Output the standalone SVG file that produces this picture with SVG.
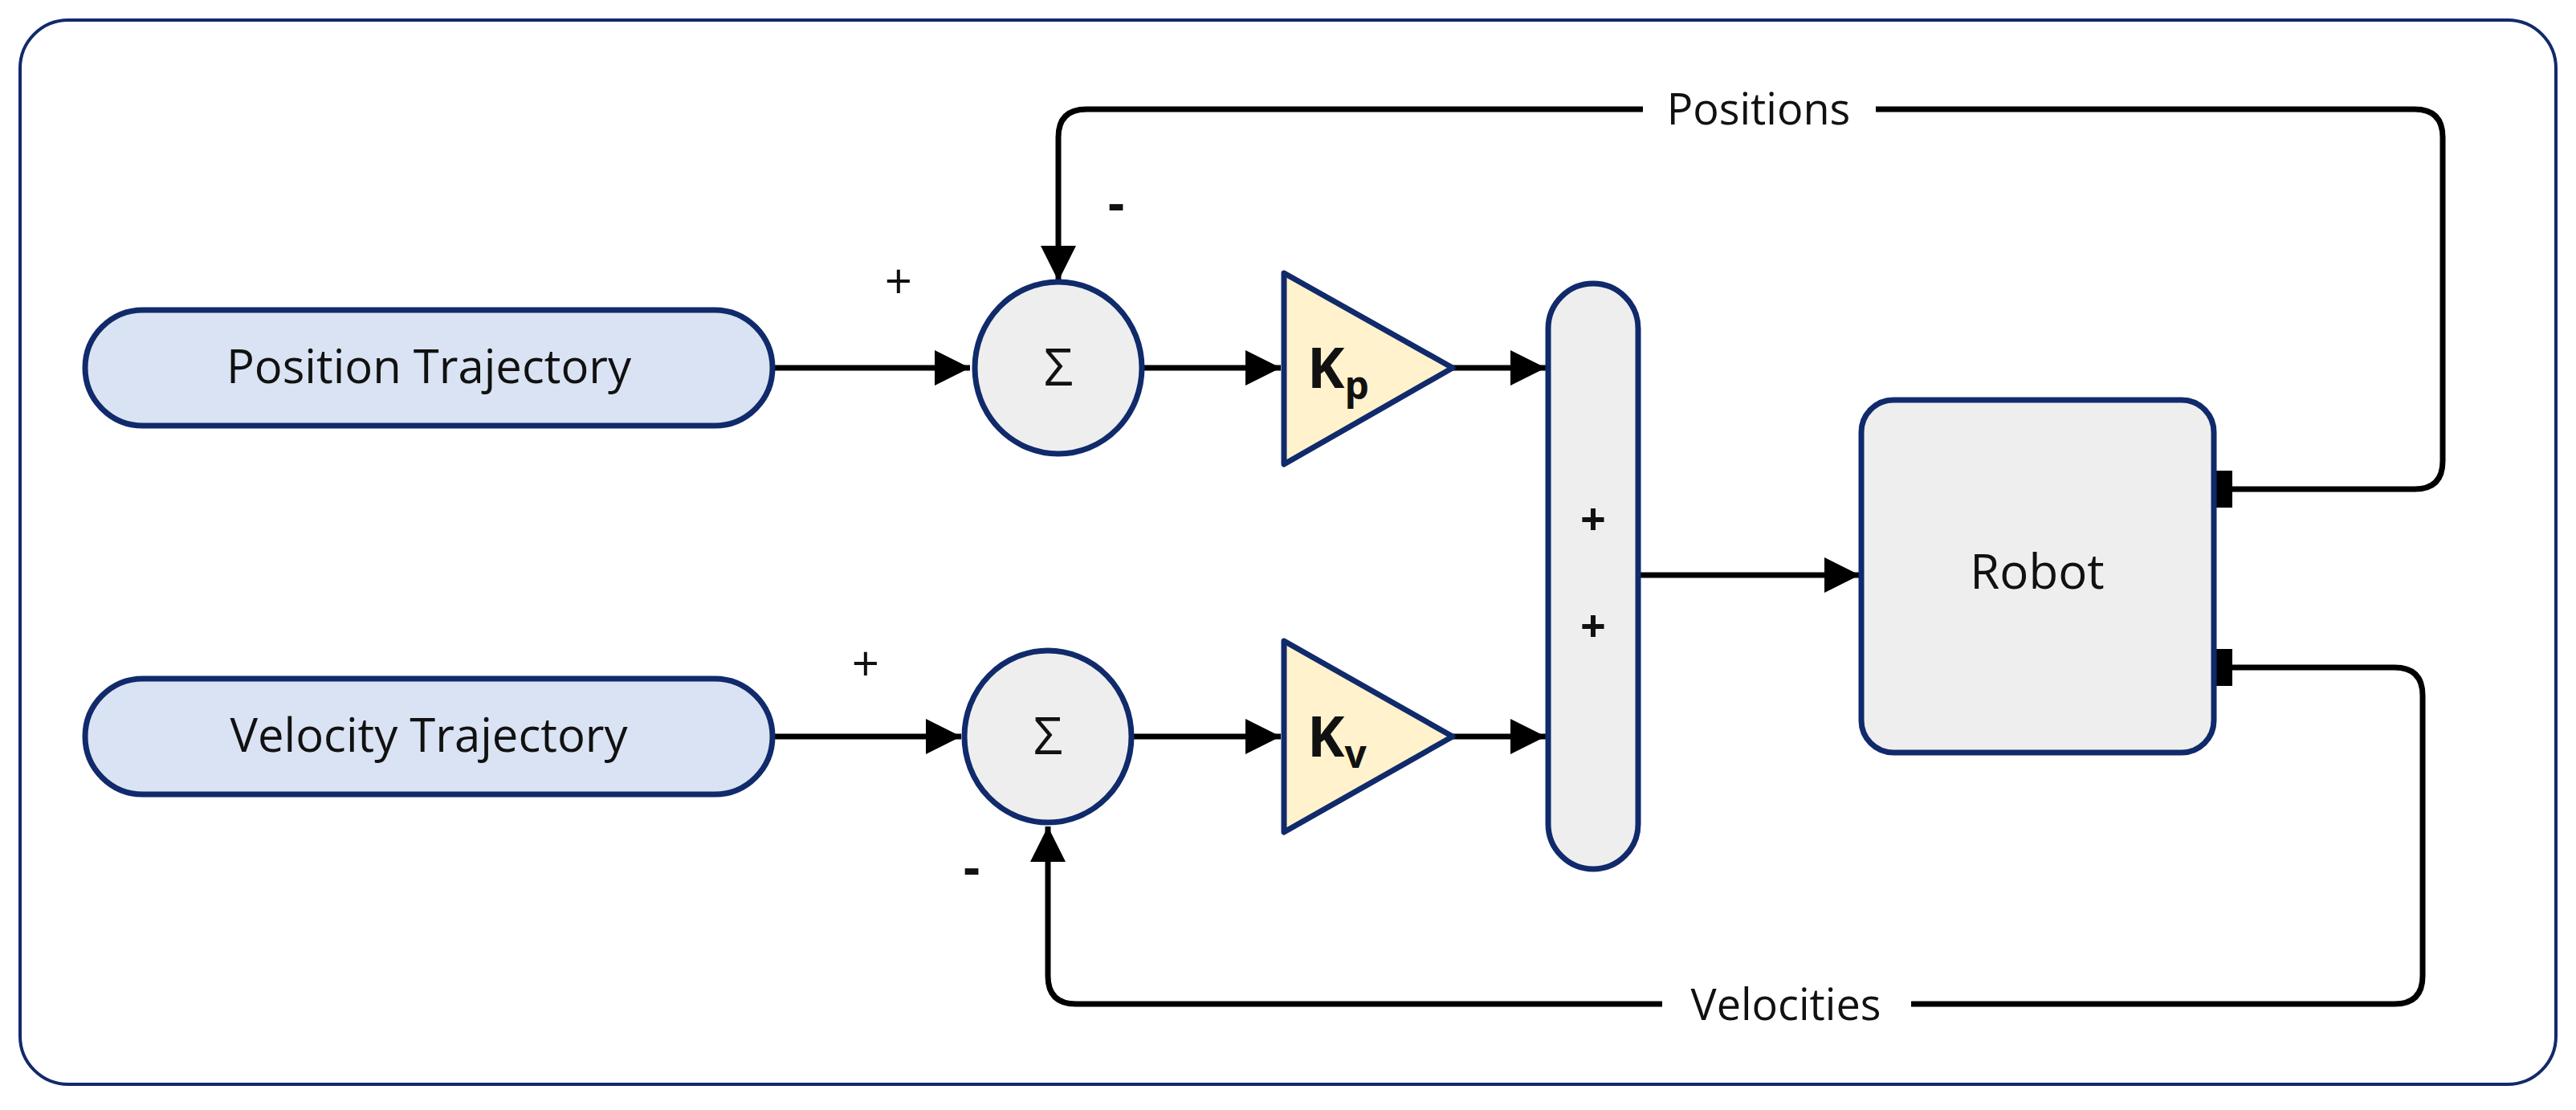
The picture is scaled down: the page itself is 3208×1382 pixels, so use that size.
<svg xmlns="http://www.w3.org/2000/svg" width="3208" height="1382" viewBox="0 0 3208 1382">
<style>
.n{stroke:#102a6b;stroke-width:7}
.c{fill:none;stroke:#000;stroke-width:7;stroke-linejoin:round}
.t{font-family:"Open Sans","Liberation Sans",sans-serif;fill:#111}
</style>
<defs>
<marker id="a" viewBox="0 0 10 10" refX="10" refY="5" markerWidth="44" markerHeight="44" markerUnits="userSpaceOnUse" orient="auto"><path d="M0,0L10,5L0,10z" fill="#000"/></marker>
</defs>
<rect x="25" y="25" width="3158" height="1325" rx="60" fill="#fff" stroke="#102a6b" stroke-width="4"/>
<g id="connectors">
<path class="c" d="M962,458H1208" marker-end="url(#a)"/>
<path class="c" d="M962,917H1197" marker-end="url(#a)"/>
<path class="c" d="M1421,458H1595" marker-end="url(#a)"/>
<path class="c" d="M1410,917H1595" marker-end="url(#a)"/>
<path class="c" d="M1809,458H1925" marker-end="url(#a)"/>
<path class="c" d="M1809,917H1925" marker-end="url(#a)"/>
<path class="c" d="M2040,716H2316" marker-end="url(#a)"/>
<path class="c" d="M2780,609H3007Q3042,609 3042,574V171Q3042,136 3007,136H1353Q1318,136 1318,171V350" marker-end="url(#a)"/>
<path class="c" d="M2780,831H2982Q3017,831 3017,866V1215Q3017,1250 2982,1250H1340Q1305,1250 1305,1215V1029" marker-end="url(#a)"/>
<rect x="2046" y="100" width="290" height="70" fill="#fff"/>
<text class="t" x="2190" y="155" font-size="54" text-anchor="middle">Positions</text>
<rect x="2070" y="1215" width="310" height="70" fill="#fff"/>
<text class="t" x="2224" y="1270" font-size="54" text-anchor="middle">Velocities</text>
<rect x="2732" y="586" width="48" height="46" fill="#000"/>
<rect x="2732" y="808" width="48" height="46" fill="#000"/>
</g>
<g id="pos-traj"><rect class="n" x="106" y="386" width="856" height="144" rx="72" fill="#dae3f3"/><text class="t" x="534" y="477" font-size="58" text-anchor="middle">Position Trajectory</text></g>
<g id="vel-traj"><rect class="n" x="106" y="845" width="856" height="144" rx="72" fill="#dae3f3"/><text class="t" x="534" y="936" font-size="58" text-anchor="middle">Velocity Trajectory</text></g>
<g id="sum1"><ellipse class="n" cx="1318" cy="458" rx="104" ry="107" fill="#eeeeee"/><text class="t" x="1318" y="480" font-size="64" text-anchor="middle">Σ</text></g>
<g id="sum2"><ellipse class="n" cx="1305" cy="917" rx="104" ry="107" fill="#eeeeee"/><text class="t" x="1305" y="939" font-size="64" text-anchor="middle">Σ</text></g>
<g id="kp"><path class="n" d="M1599,340L1809,458L1599,578Z" fill="#fff2cc" stroke-linejoin="round"/><text class="t" x="1628" y="483" font-size="70" font-weight="bold">K<tspan font-size="48" dy="14">p</tspan></text></g>
<g id="kv"><path class="n" d="M1599,798L1809,917L1599,1036Z" fill="#fff2cc" stroke-linejoin="round"/><text class="t" x="1628" y="942" font-size="70" font-weight="bold">K<tspan font-size="48" dy="14">v</tspan></text></g>
<g id="adder"><rect class="n" x="1928" y="353" width="112" height="729" rx="56" fill="#eeeeee"/><text class="t" x="1984" y="666" font-size="56" font-weight="bold" text-anchor="middle">+</text><text class="t" x="1984" y="799" font-size="56" font-weight="bold" text-anchor="middle">+</text></g>
<g id="robot"><rect class="n" x="2318" y="498" width="439" height="439" rx="40" fill="#eeeeee"/><text class="t" x="2537" y="733" font-size="60" text-anchor="middle">Robot</text></g>
<g id="signs" class="t">
<text x="1119" y="372" font-size="60" text-anchor="middle">+</text>
<text x="1078" y="848" font-size="60" text-anchor="middle">+</text>
<text x="1390" y="275" font-size="64" font-weight="bold" text-anchor="middle">-</text>
<text x="1210" y="1102" font-size="64" font-weight="bold" text-anchor="middle">-</text>
</g>
</svg>
